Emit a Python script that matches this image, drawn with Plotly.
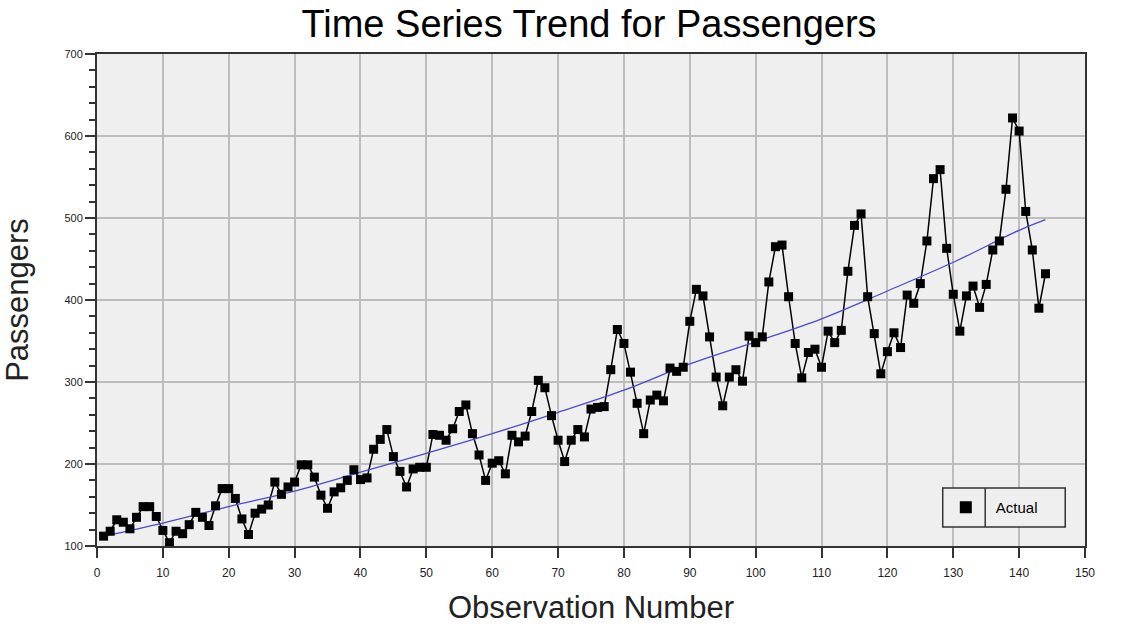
import plotly.graph_objects as go

obs = list(range(1, 145))
passengers = [
    112, 118, 132, 129, 121, 135, 148, 148, 136, 119, 104, 118,
    115, 126, 141, 135, 125, 149, 170, 170, 158, 133, 114, 140,
    145, 150, 178, 163, 172, 178, 199, 199, 184, 162, 146, 166,
    171, 180, 193, 181, 183, 218, 230, 242, 209, 191, 172, 194,
    196, 196, 236, 235, 229, 243, 264, 272, 237, 211, 180, 201,
    204, 188, 235, 227, 234, 264, 302, 293, 259, 229, 203, 229,
    242, 233, 267, 269, 270, 315, 364, 347, 312, 274, 237, 278,
    284, 277, 317, 313, 318, 374, 413, 405, 355, 306, 271, 306,
    315, 301, 356, 348, 355, 422, 465, 467, 404, 347, 305, 336,
    340, 318, 362, 348, 363, 435, 491, 505, 404, 359, 310, 337,
    360, 342, 406, 396, 420, 472, 548, 559, 463, 407, 362, 405,
    417, 391, 419, 461, 472, 535, 622, 606, 508, 461, 390, 432,
]

trend_x = [1, 10, 20, 30, 40, 50, 60, 70, 80, 90, 100, 110, 120, 130, 140, 144]
trend_y = [112, 128, 148, 167, 190, 213, 237, 263, 290, 322, 349, 377, 411, 446, 485, 498]

font_main = "Liberation Sans, Arial, sans-serif"
font_narrow = "Liberation Sans Narrow, Arial Narrow, sans-serif"

fig = go.Figure()
fig.add_trace(go.Scatter(
    x=obs, y=passengers, mode="lines",
    line=dict(color="black", width=1.5),
    showlegend=False, hoverinfo="skip"))
fig.add_trace(go.Scatter(
    x=trend_x, y=trend_y, mode="lines",
    line=dict(color="rgb(75,75,205)", width=1.3, shape="spline"),
    showlegend=False))
fig.add_trace(go.Scatter(
    x=obs, y=passengers, mode="markers", name="Actual",
    marker=dict(symbol="square", color="black", size=9)))

fig.update_layout(
    width=1122, height=634,
    margin=dict(l=97, r=37, t=54, b=88),
    paper_bgcolor="white",
    plot_bgcolor="#efefef",
    font=dict(family=font_main, color="black"),
    title=dict(text="Time Series Trend for Passengers",
               font=dict(size=38, family=font_main, color="black"),
               x=0.525, xanchor="center", y=0.963, yanchor="middle"),
    xaxis=dict(
        range=[0, 150], dtick=10, tick0=0,
        showgrid=True, gridcolor="#bdbdbd", gridwidth=1.5,
        showline=True, linecolor="#333333", linewidth=2, mirror=True,
        ticks="outside", ticklen=10, tickwidth=1.5, tickcolor="#333333",
        ticklabelstandoff=5,
        tickfont=dict(size=12, family=font_narrow, color="#222222"),
        zeroline=False,
        title=dict(text="Observation Number",
                   font=dict(size=31, family=font_main, color="#222222"), standoff=17),
    ),
    yaxis=dict(
        range=[100, 700], dtick=100, tick0=100,
        showgrid=True, gridcolor="#bdbdbd", gridwidth=1.5,
        showline=True, linecolor="#333333", linewidth=2, mirror=True,
        ticks="outside", ticklen=10, tickwidth=1.5, tickcolor="#333333",
        minor=dict(dtick=20, ticks="outside", ticklen=6, tickcolor="#333333", showgrid=False),
        tickfont=dict(size=11, family=font_narrow, color="#222222"),
        zeroline=False,
        title=dict(text="Passengers",
                   font=dict(size=31, family=font_main, color="#222222"), standoff=30),
    ),
    legend=dict(
        x=0.849, y=0.112, xanchor="left", yanchor="top",
        bgcolor="rgba(0,0,0,0)", borderwidth=0,
        font=dict(size=15, family=font_main),
        itemwidth=50, itemsizing="constant",
    ),
)

# legend frame (opaque box) and divider
fig.add_shape(type="rect", xref="paper", yref="paper",
              x0=0.856, x1=0.980, y0=0.0386, y1=0.118, layer="above",
              fillcolor="#efefef", line=dict(color="#333333", width=1.5))
fig.add_shape(type="line", xref="paper", yref="paper",
              x0=0.899, x1=0.899, y0=0.0386, y1=0.118, layer="above",
              line=dict(color="#333333", width=1.5))

fig.write_html("out.html")
